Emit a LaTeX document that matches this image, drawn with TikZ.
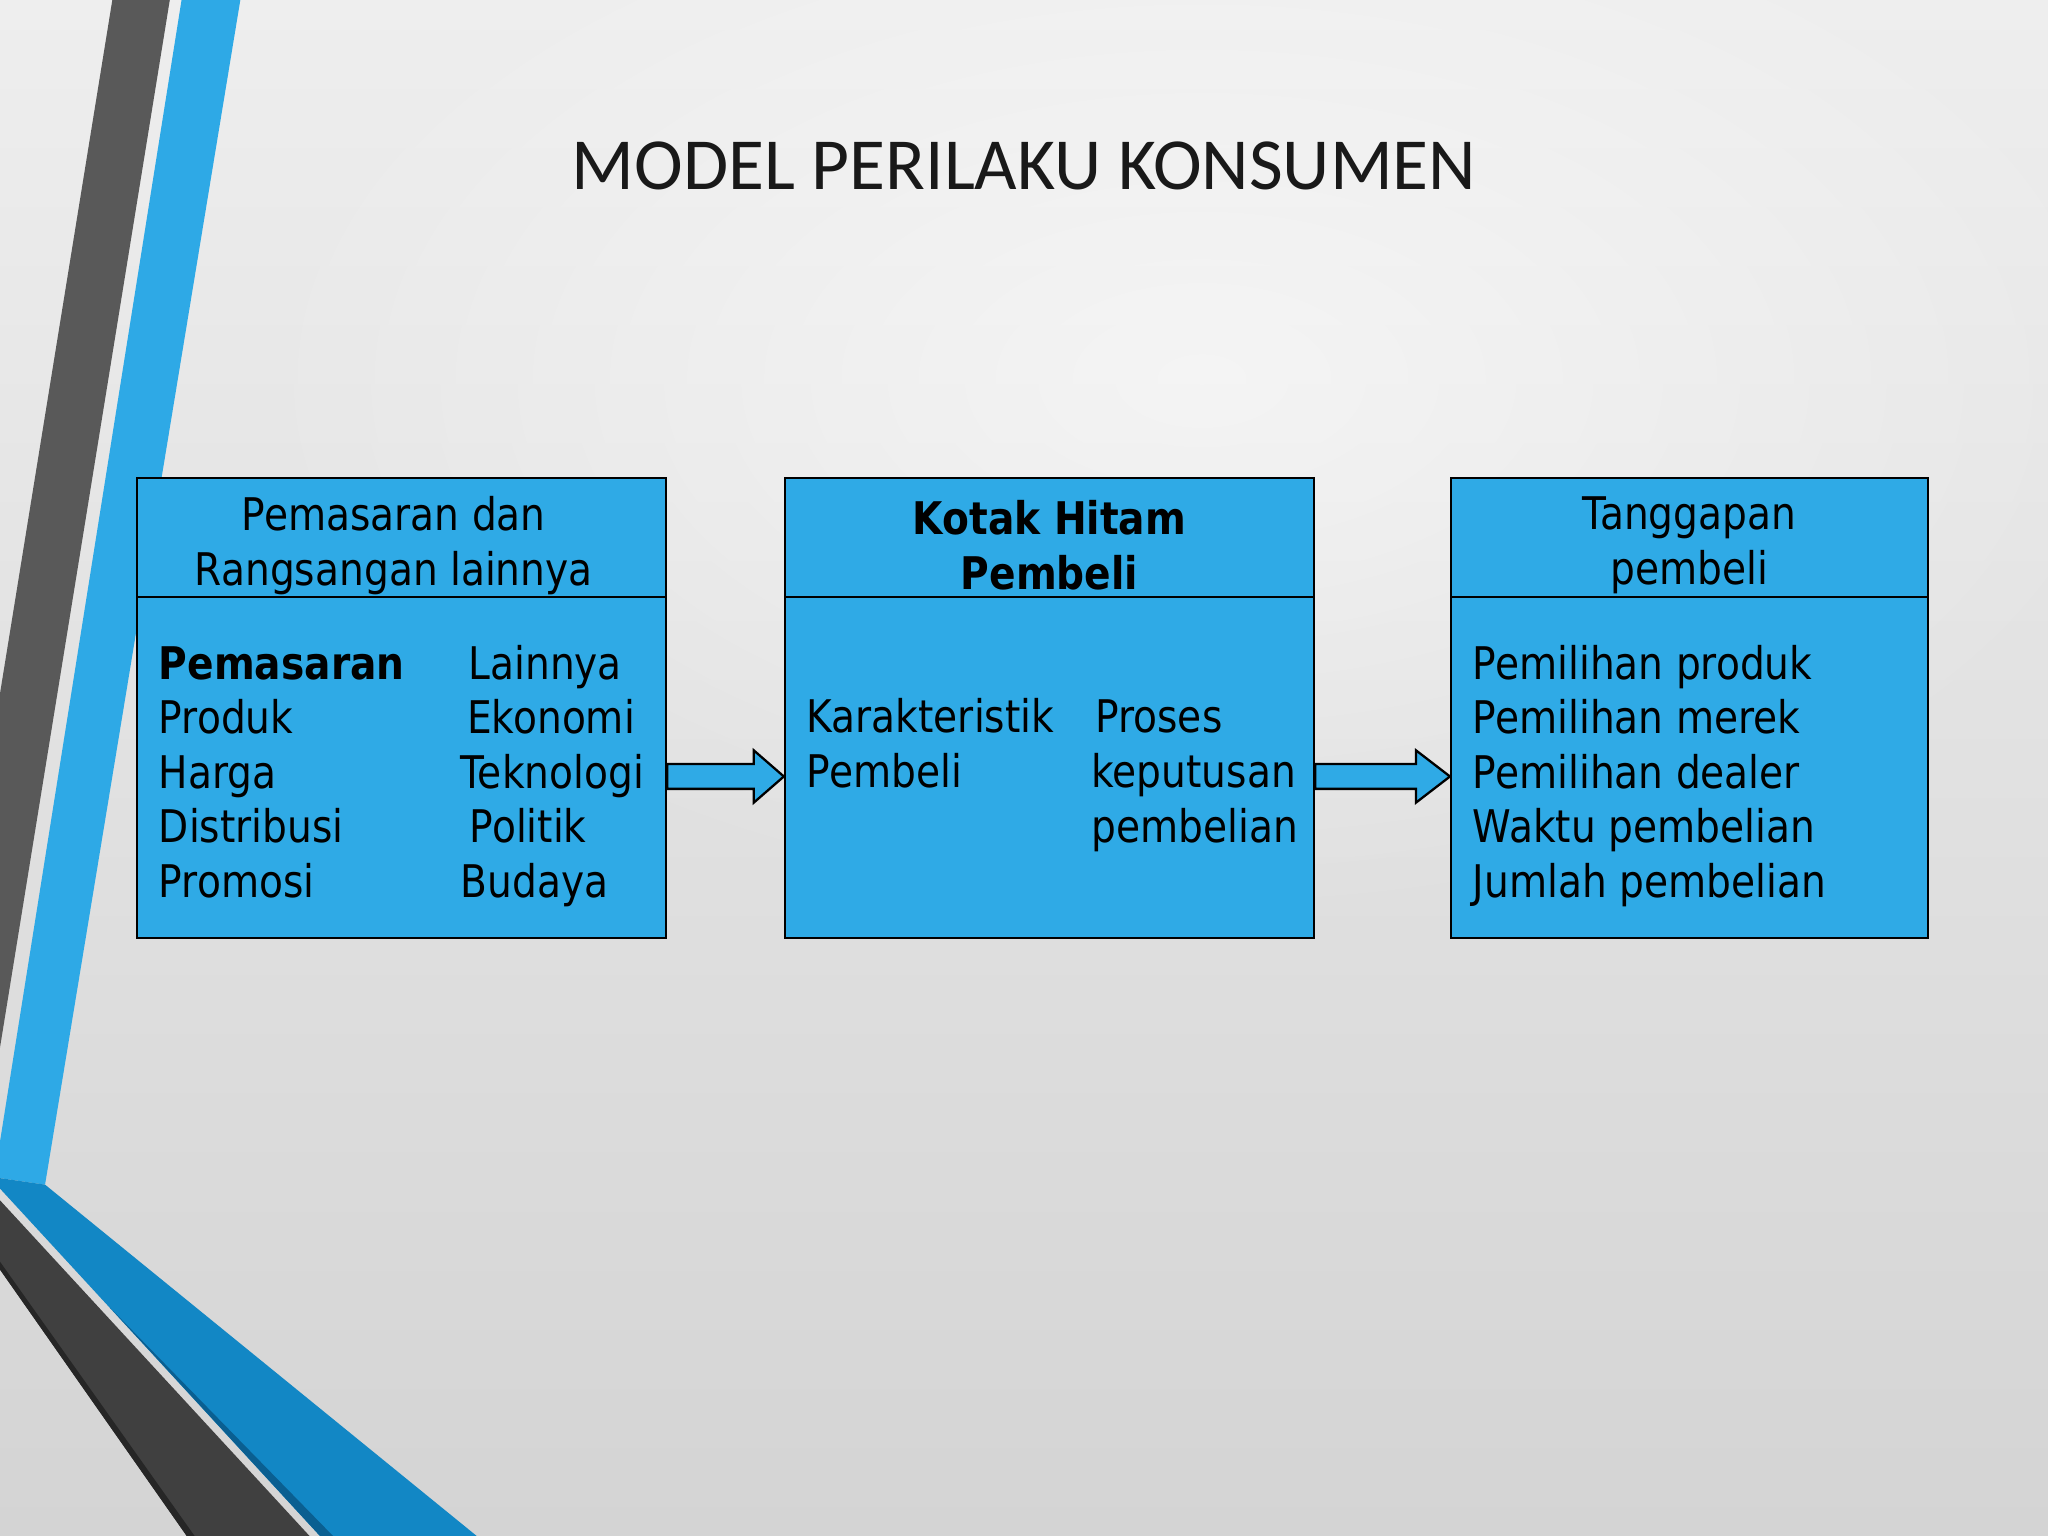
\documentclass[tikz,border=0pt]{standalone}
\usepackage{fontspec}
\usetikzlibrary{calc,fadings}
\newfontfamily\boxfont[FakeStretch=0.87]{DejaVu Sans}
\newfontfamily\titlefont{Carlito}
\definecolor{boxblue}{RGB}{47,170,230}
\definecolor{stripeblue}{RGB}{46,169,230}
\definecolor{bandblue}{RGB}{18,135,197}
\definecolor{bandshadow}{RGB}{10,95,145}
\definecolor{stripegray}{RGB}{89,89,89}
\definecolor{bandgray}{RGB}{64,64,64}
\definecolor{bandgrayshadow}{RGB}{38,38,38}
\definecolor{bgtop}{RGB}{238,238,238}
\definecolor{bgbottom}{RGB}{212,212,212}
\tikzfading[name=glow, inner color=transparent!0, outer color=transparent!100]

\begin{document}
\begin{tikzpicture}[
  boxtext/.style={font={\boxfont\fontsize{9.8}{11.9}\selectfont}, inner sep=0pt},
  boldtext/.style={font={\boxfont\bfseries\fontsize{9.8}{11.9}\selectfont}, inner sep=0pt},
  bigbox/.style={draw=black, line width=0.5pt, fill=boxblue, minimum height=3.52cm, inner sep=0pt},
  headbox/.style={bigbox, minimum height=0.91cm, anchor=north},
  blockarrow/.style={draw=black, line width=0.5pt, fill=boxblue, line join=miter}
 ]
 %\draw[help lines] (0,0) grid (15.68,-11.76);
 \useasboundingbox (0,0) rectangle (15.68,-11.76);
 \shade[top color=bgtop, bottom color=bgbottom] (0,0) rectangle (15.68,-11.76);
 \fill[white, opacity=0.55, path fading=glow] (9.2,-2.9) ellipse (7.5cm and 4.2cm);

 \fill[stripegray] (0.86,0) -- (1.30,0) -- (0,-8.02) -- (0,-5.31) -- cycle;
 \fill[stripeblue] (1.39,0) -- (1.84,0) -- (0.345,-9.07) -- (0,-9.02) -- (0,-8.74) -- cycle;
 \fill[bandblue] (0,-9.02) -- (0.345,-9.07) -- (3.65,-11.76) -- (2.45,-11.76) -- (0,-9.10) -- cycle;
 \fill[bandshadow] (0.84,-10.01) -- (2.45,-11.76) -- (2.55,-11.76) -- cycle;
 \fill[bandgray] (0,-9.19) -- (2.37,-11.76) -- (1.43,-11.76) -- (0,-9.72) -- cycle;
 \fill[bandgrayshadow] (0,-9.72) -- (1.43,-11.76) -- (1.49,-11.76) -- (0,-9.66) -- cycle;

 \node[font={\titlefont\fontsize{16}{19}\selectfont}, text=black!90, anchor=base, inner sep=0pt] (title) at (7.84,-1.45) {MODEL PERILAKU KONSUMEN};

 \node[bigbox, minimum width=4.05cm] (stimuli) at (3.075,-5.42) {};
 \node[headbox, minimum width=4.05cm] (stimulihead) at (stimuli.north) {};
 \node[boxtext, align=center] (stimulilabel) at ([xshift=-0.06cm, yshift=-0.06cm]stimulihead.center) {Pemasaran dan\\Rangsangan lainnya};
 \node[bigbox, minimum width=4.05cm] (blackbox) at (8.035,-5.42) {};
 \node[headbox, minimum width=4.05cm] (blackboxhead) at (blackbox.north) {};
 \node[boldtext, align=center] (blackboxlabel) at ([yshift=-0.06cm]blackboxhead.center) {Kotak Hitam\\Pembeli};
 \node[bigbox, minimum width=3.65cm] (response) at (12.935,-5.42) {};
 \node[headbox, minimum width=3.65cm] (responsehead) at (response.north) {};
 \node[boxtext, align=center] (responselabel) at ([yshift=-0.06cm]responsehead.center) {Tanggapan\\pembeli};

 \node[boldtext, anchor=base west] (mkt) at (1.21,-5.20) {Pemasaran};
 \foreach \txt [count=\i] in {Produk,Harga,Distribusi,Promosi}
   \node[boxtext, anchor=base west] (mkt\i) at (1.21,-5.20-0.418*\i) {\txt};
 \foreach \txt/\dx [count=\i from 0] in {Lainnya/0.06,Ekonomi/0.05,Teknologi/0,Politik/0.07,Budaya/0}
   \node[boxtext, anchor=base west] (other\i) at (3.52+\dx,-5.20-0.418*\i) {\txt};

 \node[boxtext, anchor=base west] (buyer1) at (6.17,-5.61) {Karakteristik};
 \node[boxtext, anchor=base west] (buyer2) at (6.17,-6.03) {Pembeli};
 \node[boxtext, anchor=base west] (decision1) at (8.38,-5.61) {Proses};
 \node[boxtext, anchor=base west] (decision2) at (8.35,-6.03) {keputusan};
 \node[boxtext, anchor=base west] (decision3) at (8.35,-6.45) {pembelian};

 \foreach \txt [count=\i from 0] in {Pemilihan produk,Pemilihan merek,Pemilihan dealer,Waktu pembelian,Jumlah pembelian}
   \node[boxtext, anchor=base west] (choice\i) at (11.27,-5.20-0.418*\i) {\txt};

 \coordinate (arrowrow) at (0,-5.945);
 \coordinate (arrowAfrom) at (stimuli.east |- arrowrow);
 \coordinate (arrowAto) at (blackbox.west |- arrowrow);
 \coordinate (arrowBfrom) at (blackbox.east |- arrowrow);
 \coordinate (arrowBto) at (response.west |- arrowrow);
 \draw[blockarrow] let \p1=(arrowAfrom), \p2=(arrowAto) in
   (\x1,\y1+0.095cm) -- (\x2-0.23cm,\y1+0.095cm) -- (\x2-0.23cm,\y1+0.2cm) -- (\x2,\y1)
   -- (\x2-0.23cm,\y1-0.2cm) -- (\x2-0.23cm,\y1-0.095cm) -- (\x1,\y1-0.095cm) -- cycle;
 \draw[blockarrow] let \p1=(arrowBfrom), \p2=(arrowBto) in
   (\x1,\y1+0.095cm) -- (\x2-0.26cm,\y1+0.095cm) -- (\x2-0.26cm,\y1+0.2cm) -- (\x2,\y1)
   -- (\x2-0.26cm,\y1-0.2cm) -- (\x2-0.26cm,\y1-0.095cm) -- (\x1,\y1-0.095cm) -- cycle;
\end{tikzpicture}
\end{document}
